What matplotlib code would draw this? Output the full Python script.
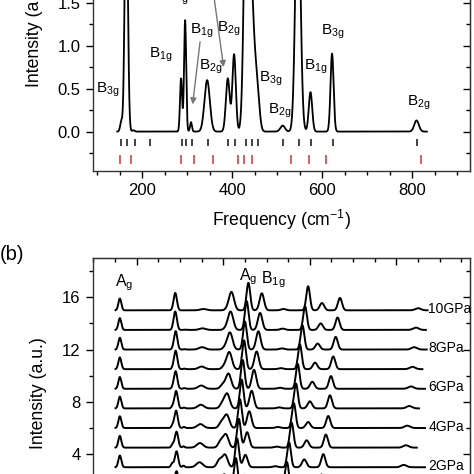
import numpy as np
import matplotlib.pyplot as plt
from matplotlib.ticker import MultipleLocator

plt.rcParams['font.family'] = ['Liberation Sans', 'DejaVu Sans']
plt.rcParams['mathtext.fontset'] = 'custom'
plt.rcParams['mathtext.rm'] = 'Liberation Sans'
plt.rcParams['mathtext.it'] = 'Liberation Sans:italic'
plt.rcParams['mathtext.default'] = 'regular'

# ---- panel (a): ambient spectrum, peak centres / heights / widths (cm-1)
top_pos = [153, 164, 180, 286, 295, 308, 344, 390, 404, 432, 443, 455, 512, 546, 574, 622, 810]
top_h = [0.12, 3.0, 0.015, 0.62, 1.3, 0.11, 0.6, 0.62, 0.9, 3.5, 1.4, 0.5, 0.07, 3.0, 0.46, 0.91, 0.13]
top_w = [6, 8, 6, 5.5, 5.5, 5, 14, 10, 9, 13, 14, 12, 12, 13, 9, 8, 12]
top_range = (144, 833)

calc_black = [153, 165, 184, 217, 288, 296, 310, 347, 390, 406, 430, 444, 458,
              513, 548, 576, 623, 812]
calc_red = [149, 174, 286, 315, 358, 412, 426, 443, 531, 571, 608, 819]

top_labels = ['B$_{3g}$', 'B$_{1g}$', 'A$_{g}$', 'B$_{1g}$', 'B$_{2g}$', 'B$_{2g}$',
              'B$_{3g}$', 'B$_{2g}$', 'B$_{1g}$', 'B$_{3g}$', 'B$_{2g}$']
top_label_x = [123, 241, 284, 333, 393, 353, 486, 506, 586, 624, 816]
top_label_y = [0.49, 0.89, 1.56, 1.18, 1.2, 0.76, 0.61, 0.24, 0.75, 1.16, 0.34]

# ---- panel (b): pressure series 0..10 GPa, one list per mode
pressures = [0, 1, 2, 3, 4, 5, 6, 7, 8, 9, 10]
pos_a = [161, 161, 161, 161, 161, 161, 161, 161, 161, 161, 161]
h_a = [0.9, 0.9, 0.9, 0.9, 0.9, 0.9, 0.9, 0.9, 0.9, 0.9, 0.9]
pos_b = [292, 292, 292, 292, 291, 291, 290, 290, 290, 289, 289]
h_b = [1.2, 1.2, 1.22, 1.22, 1.33, 1.33, 1.33, 1.4, 1.4, 1.4, 1.33]
pos_bs = [282, 282, 282, 283, 283, 283, 284, 284, 284, 284, 284]
h_bs = [0.35, 0.32, 0.3, 0.25, 0.2, 0.15, 0.12, 0.08, 0.05, 0.03, 0.0]
pos_c = [307, 307, 308, 308, 309, 309, 310, 310, 311, 311, 312]
h_c = [0.15, 0.13, 0.12, 0.1, 0.08, 0.06, 0.05, 0.04, 0.03, 0.02, 0.0]
pos_d = [344, 345, 345, 346, 347, 348, 349, 350, 351, 352, 354]
h_d = [0.42, 0.4, 0.38, 0.35, 0.3, 0.28, 0.25, 0.2, 0.18, 0.12, 0.1]
pos_e = [389, 390, 391, 394, 396, 398, 399, 403, 405, 407, 410]
h_e = [0.6, 0.58, 0.56, 0.5, 0.45, 0.38, 0.32, 0.25, 0.2, 0.15, 0.1]
pos_f = [401, 403, 404, 406, 408, 409, 412, 414, 415.5, 417, 419]
h_f = [0.9, 0.92, 0.95, 1.0, 1.0, 1.1, 1.15, 1.28, 1.28, 1.38, 1.38]
pos_g = [426, 429, 432, 436, 438.6, 442.5, 445, 448, 450, 454, 458]
h_g = [2.2, 2.2, 2.2, 2.2, 2.2, 2.2, 2.2, 2.2, 2.15, 2.2, 2.1]
pos_h = [447, 449, 451, 455, 460, 465.6, 471, 477, 481, 485, 489]
h_h = [0.9, 0.92, 0.95, 1.18, 1.28, 1.35, 1.45, 1.35, 1.4, 1.3, 1.3]
pos_i = [512, 516, 520, 523, 526, 529, 531, 533, 535, 537, 539]
h_i = [0.08, 0.08, 0.08, 0.08, 0.08, 0.08, 0.08, 0.08, 0.09, 0.1, 0.1]
pos_j = [542, 547, 552, 558, 563, 568, 572, 577, 583, 589, 596]
h_j = [1.9, 1.9, 1.9, 1.9, 1.9, 1.9, 1.9, 1.9, 1.85, 1.8, 1.84]
pos_k = [578, 582, 587, 592.6, 596, 600, 605.6, 612, 618, 625, 628]
h_k = [0.5, 0.55, 0.6, 0.56, 0.46, 0.54, 0.54, 0.5, 0.46, 0.5, 0.56]
pos_l = [623, 627, 631, 637, 642.5, 646.4, 648.7, 654, 659.6, 664, 669.5]
h_l = [0.95, 0.95, 1.0, 1.0, 0.92, 1.0, 0.97, 0.97, 0.97, 0.95, 0.95]
pos_m = [810, 813, 817, 822, 825, 829.6, 833.5, 837, 841, 845, 850]
h_m = [0.18, 0.18, 0.18, 0.18, 0.18, 0.18, 0.18, 0.18, 0.18, 0.18, 0.16]
mode_w = [8, 9, 7, 6, 17, 13, 14, 10, 12, 13, 10, 12, 11, 15]
trace_start = 151
trace_end = [845, 845, 866, 847, 866, 852, 866, 860, 870, 868, 872]
offset_step = 1.5
labelled_p = [2, 4, 6, 8, 10]

bottom_labels = ['A$_{g}$', 'A$_{g}$', 'B$_{1g}$']
bottom_label_x = [170, 457, 515]
bottom_label_y = [17.1, 17.6, 17.35]


def spectrum(x, pos, h, w):
    y = np.zeros_like(x)
    for p, a, f in zip(pos, h, w):
        s = f / 2.3548
        y += a * np.exp(-(x - p) ** 2 / (2 * s * s))
    return y


def style_axes(ax, xmaj, xmin, ymaj, ymin):
    ax.xaxis.set_major_locator(MultipleLocator(xmaj))
    ax.xaxis.set_minor_locator(MultipleLocator(xmin))
    ax.yaxis.set_major_locator(MultipleLocator(ymaj))
    ax.yaxis.set_minor_locator(MultipleLocator(ymin))
    ax.tick_params(which='both', direction='out', width=1, labelsize=12, pad=4)
    ax.tick_params(which='major', length=5)
    ax.tick_params(which='minor', length=3)
    for s in ax.spines.values():
        s.set_linewidth(1.0)
        s.set_color('#333333')
    sx = ax.secondary_xaxis('top')
    sx.xaxis.set_major_locator(MultipleLocator(xmaj))
    sx.xaxis.set_minor_locator(MultipleLocator(xmin))
    sx.tick_params(which='both', direction='in', labeltop=False, width=1)
    sx.tick_params(which='major', length=5)
    sx.tick_params(which='minor', length=3)
    sy = ax.secondary_yaxis('right')
    sy.yaxis.set_major_locator(MultipleLocator(ymaj))
    sy.yaxis.set_minor_locator(MultipleLocator(ymin))
    sy.tick_params(which='both', direction='in', labelright=False, width=1)
    sy.tick_params(which='major', length=5)
    sy.tick_params(which='minor', length=3)


fig = plt.figure(figsize=(4.74, 4.74), dpi=100)
ax1 = fig.add_axes([93 / 474, 1 - 171 / 474, 377 / 474, 279.4 / 474])
ax2 = fig.add_axes([93 / 474, 1 - (258 + 269.4) / 474, 377 / 474, 269.4 / 474])

# panel (a)
x = np.linspace(top_range[0], top_range[1], 3000)
ax1.plot(x, spectrum(x, top_pos, top_h, top_w), color='black', lw=1.3)
ax1.vlines(calc_black, -0.174, -0.088, color='#222222', lw=1.2)
ax1.vlines(calc_red, -0.377, -0.272, color='#d9404a', lw=1.2)
for t, tx, ty in zip(top_labels, top_label_x, top_label_y):
    ax1.text(tx, ty, t, fontsize=11, ha='center', va='center')
ax1.annotate('', xy=(311, 0.285), xytext=(329, 1.08),
             arrowprops=dict(arrowstyle='-|>', color='#777777', lw=1, mutation_scale=9))
ax1.annotate('', xy=(381.5, 0.72), xytext=(352, 1.85),
             arrowprops=dict(arrowstyle='-|>', color='#777777', lw=1, mutation_scale=9))
ax1.set_xlim(90, 929)
ax1.set_ylim(-0.46, 2.8)
style_axes(ax1, 200, 50, 0.5, 0.25)
ax1.set_xlabel('Frequency (cm$^{-1}$)', fontsize=12.7)
ax1.set_ylabel('Intensity (a.u.)', fontsize=12.7)
ax1.xaxis.set_label_coords(0.5, -0.132)
ax1.yaxis.set_label_coords(-0.133, 0.5)

# panel (b)
modes_pos = [pos_a, pos_b, pos_bs, pos_c, pos_d, pos_e, pos_f, pos_g, pos_h,
             pos_i, pos_j, pos_k, pos_l, pos_m]
modes_h = [h_a, h_b, h_bs, h_c, h_d, h_e, h_f, h_g, h_h, h_i, h_j, h_k, h_l, h_m]
for i, p in enumerate(pressures):
    xb = np.linspace(trace_start, trace_end[i], 3000)
    pos = [m[i] for m in modes_pos]
    hh = [m[i] for m in modes_h]
    ax2.plot(xb, offset_step * i + spectrum(xb, pos, hh, mode_w), color='black', lw=1.4)
for p in labelled_p:
    ax2.text(874, offset_step * pressures.index(p) + 0.1, f'{p}GPa',
             fontsize=10, ha='left', va='center')
for t, tx, ty in zip(bottom_labels, bottom_label_x, bottom_label_y):
    ax2.text(tx, ty, t, fontsize=11.5, ha='center', va='center')
ax2.set_xlim(99, 970)
ax2.set_ylim(-1.6, 19)
style_axes(ax2, 200, 50, 4, 2)
ax2.set_ylabel('Intensity (a.u.)', fontsize=12.7)
ax2.yaxis.set_label_coords(-0.122, 0.5)

fig.text(12 / 474, 1 - 255 / 474, '(b)', fontsize=14.5, ha='center', va='center')

fig.savefig('out.png', dpi=100)
